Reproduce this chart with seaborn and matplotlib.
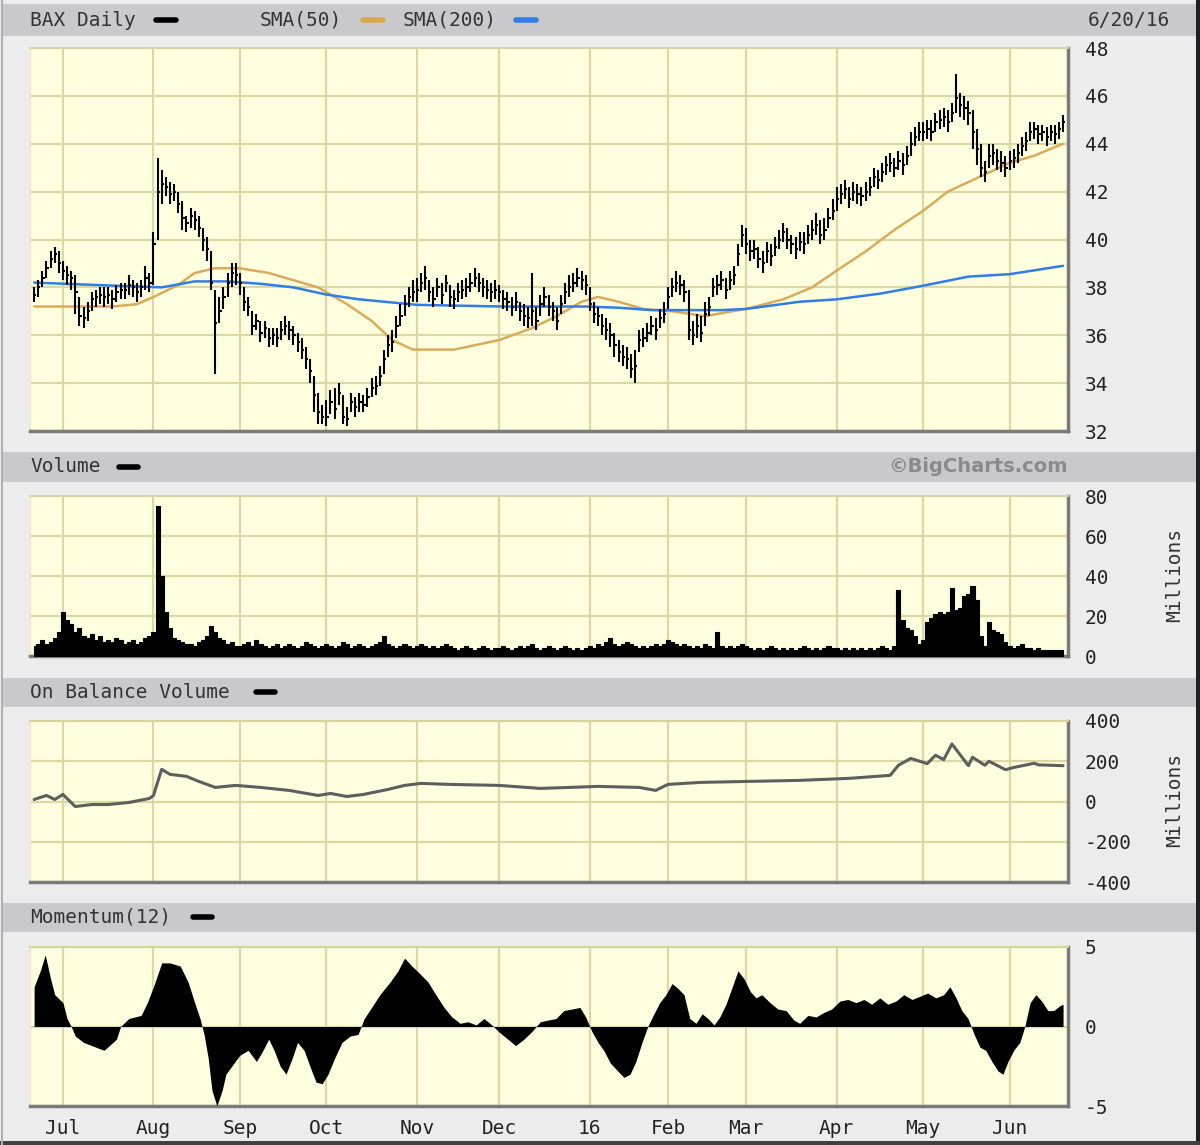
import matplotlib
matplotlib.use("Agg")
import matplotlib.pyplot as plt
from matplotlib.patches import Rectangle
from matplotlib.lines import Line2D
import seaborn as sns

sns.set_style("white")
plt.rcParams["font.family"] = ["DejaVu Sans Mono", "DejaVu Sans"]
plt.rcParams["axes.unicode_minus"] = False

W, H = 1200, 1145

# trading day index of the first session of each month (day 0 = 6/22/15)
month_days = [7, 29, 50, 71, 93, 113, 135, 154, 173, 195, 216, 237]
month_labels = ["Jul", "Aug", "Sep", "Oct", "Nov", "Dec", "16",
                "Feb", "Mar", "Apr", "May", "Jun"]

close = [37.7, 38.0, 38.4, 38.8, 39.2, 39.4, 39.0,
         38.7, 38.5, 38.4, 37.8, 36.8, 36.7, 37.0, 37.5, 37.6, 37.7, 37.6, 37.7, 37.5, 37.8, 37.9,
         37.9, 38.1, 38.0, 37.8, 38.0, 38.4, 38.2,
         39.8, 42.0, 42.3, 42.2, 41.9, 42.0, 41.5, 40.9, 40.7, 41.0, 40.8, 40.5, 40.0, 39.6, 38.2,
         36.5, 37.0, 37.6, 38.2, 38.6, 38.5,
         38.2, 37.4, 37.2, 36.4, 36.6, 36.1, 36.3, 35.9, 36.0, 35.9, 36.2, 36.4, 36.2, 36.0, 35.7,
         35.4, 35.0, 34.5, 33.5, 32.8, 32.6,
         32.6, 33.2, 32.9, 33.6, 32.6, 32.5, 33.2, 33.0, 33.2, 33.1, 33.4, 33.8, 33.9, 34.3, 35.0,
         35.6, 35.7, 36.4, 36.8, 37.3, 37.6, 37.8,
         37.9, 38.2, 38.4, 37.8, 37.5, 38.0, 37.7, 38.2, 37.6, 37.5, 37.8, 37.9, 38.0, 38.2, 38.4,
         38.2, 38.0, 37.9, 37.8, 37.9,
         37.8, 37.5, 37.4, 37.2, 37.4, 37.0, 36.8, 36.7, 37.0, 36.6, 37.3, 37.6, 37.2, 37.0, 36.6,
         37.3, 37.8, 38.0, 38.2, 38.4, 38.3, 38.1,
         37.3, 36.9, 36.8, 36.4, 36.2, 36.0, 35.6, 35.3, 35.1, 35.0, 34.6, 34.7, 35.8, 35.9, 36.1,
         36.4, 36.2, 36.7, 36.9,
         37.6, 38.0, 38.2, 38.1, 37.8, 36.2, 36.0, 36.4, 36.1, 36.9, 37.2, 38.0, 38.1, 38.3, 37.9,
         38.3, 38.5, 39.4, 40.2,
         39.8, 39.5, 39.6, 39.2, 39.0, 39.5, 39.3, 39.7, 40.0, 40.3, 40.0, 39.8, 39.6, 39.9, 39.8,
         40.2, 40.4, 40.6, 40.2, 40.4, 40.9, 41.2,
         41.7, 41.9, 42.1, 41.7, 42.0, 41.9, 41.8, 42.0, 42.2, 42.6, 42.5, 42.8, 43.1, 43.2, 43.0,
         43.3, 43.1, 43.5, 44.0, 44.3, 44.5,
         44.5, 44.6, 44.5, 44.9, 45.0, 45.1, 44.9, 45.3, 45.9, 45.6, 45.5, 45.3, 44.5, 43.8, 43.0,
         42.8, 43.5, 43.6, 43.3, 43.2, 43.0,
         43.3, 43.4, 43.6, 43.9, 44.1, 44.5, 44.6, 44.4, 44.5, 44.3, 44.5, 44.4, 44.6, 44.9]

high = [38.0, 38.3, 38.7, 39.1, 39.5, 39.7, 39.5,
        39.1, 38.9, 38.7, 38.5, 37.6, 37.2, 37.4, 37.8, 37.9, 38.0, 38.0, 38.0, 37.9, 38.1, 38.2,
        38.2, 38.5, 38.3, 38.2, 38.3, 38.9, 38.6,
        40.3, 43.4, 42.9, 42.6, 42.4, 42.3, 42.0, 41.6, 41.0, 41.3, 41.2, 41.0, 40.5, 40.1, 39.5,
        37.9, 37.6, 38.0, 38.6, 39.0, 39.0,
        38.6, 38.0, 37.6, 37.0, 36.9, 36.6, 36.6, 36.3, 36.3, 36.3, 36.6, 36.8, 36.6, 36.4, 36.1,
        35.9, 35.5, 35.0, 34.3, 33.6, 33.1,
        33.3, 33.7, 33.8, 34.0, 33.5, 33.0, 33.6, 33.4, 33.6, 33.5, 33.8, 34.2, 34.3, 34.7, 35.4,
        36.0, 36.2, 36.8, 37.3, 37.7, 38.0, 38.3,
        38.4, 38.6, 38.9, 38.3, 38.0, 38.4, 38.2, 38.5, 38.1, 37.9, 38.2, 38.3, 38.4, 38.6, 38.8,
        38.6, 38.4, 38.3, 38.2, 38.3,
        38.1, 37.9, 37.8, 37.6, 37.8, 37.4, 37.3, 37.2, 38.6, 37.2, 37.7, 38.0, 37.7, 37.4, 37.2,
        37.7, 38.2, 38.5, 38.6, 38.8, 38.7, 38.5,
        38.0, 37.4, 37.2, 36.9, 36.7, 36.5, 36.1, 35.8, 35.6, 35.5, 35.2, 35.4, 36.2, 36.3, 36.5,
        36.8, 36.7, 37.1, 37.4,
        38.0, 38.4, 38.7, 38.5, 38.3, 37.9, 36.6, 36.9, 36.8, 37.4, 37.6, 38.4, 38.5, 38.7, 38.4,
        38.7, 38.9, 39.8, 40.6,
        40.5, 40.0, 40.0, 39.7, 39.5, 39.9, 39.8, 40.1, 40.4, 40.7, 40.5, 40.2, 40.1, 40.3, 40.3,
        40.6, 40.8, 41.1, 40.8, 40.9, 41.3, 41.7,
        42.2, 42.3, 42.5, 42.2, 42.4, 42.3, 42.2, 42.4, 42.6, 43.0, 42.9, 43.2, 43.5, 43.6, 43.4,
        43.7, 43.6, 43.9, 44.5, 44.7, 44.9,
        44.9, 45.0, 45.0, 45.3, 45.4, 45.5, 45.4, 45.7, 46.9, 46.1, 46.0, 45.8, 45.4, 44.6, 44.0,
        43.3, 44.0, 44.0, 43.8, 43.7, 43.5,
        43.7, 43.8, 44.0, 44.3, 44.5, 44.9, 44.9, 44.8, 44.8, 44.7, 44.8, 44.8, 44.9, 45.2]

low = [37.4, 37.6, 38.0, 38.4, 38.8, 39.0, 38.6,
       38.3, 38.1, 37.9, 36.9, 36.4, 36.3, 36.6, 37.0, 37.2, 37.3, 37.2, 37.3, 37.1, 37.4, 37.5,
       37.5, 37.7, 37.6, 37.4, 37.6, 37.9, 37.8,
       38.1, 40.0, 41.5, 41.8, 41.5, 41.6, 41.1, 40.4, 40.3, 40.5, 40.4, 40.1, 39.5, 39.1, 37.9,
       34.4, 36.5, 37.1, 37.6, 38.0, 38.1,
       37.7, 37.0, 36.8, 36.0, 36.2, 35.7, 35.9, 35.5, 35.6, 35.5, 35.8, 36.0, 35.8, 35.6, 35.3,
       35.0, 34.6, 34.0, 32.8, 32.3, 32.3,
       32.2, 32.7, 32.5, 33.1, 32.3, 32.2, 32.8, 32.6, 32.8, 32.8, 33.0, 33.4, 33.5, 33.9, 34.4,
       35.1, 35.3, 35.9, 36.4, 36.8, 37.2, 37.4,
       37.4, 37.8, 37.9, 37.4, 37.2, 37.6, 37.3, 37.8, 37.2, 37.1, 37.4, 37.5, 37.6, 37.8, 38.0,
       37.8, 37.6, 37.5, 37.4, 37.5,
       37.4, 37.1, 37.0, 36.8, 37.0, 36.6, 36.4, 36.3, 36.4, 36.2, 36.8, 37.2, 36.8, 36.6, 36.2,
       36.9, 37.3, 37.6, 37.8, 38.0, 37.9, 37.7,
       37.0, 36.5, 36.4, 36.0, 35.8, 35.5, 35.1, 34.9, 34.7, 34.6, 34.2, 34.0, 35.3, 35.5, 35.7,
       36.0, 35.8, 36.3, 36.5,
       37.1, 37.6, 37.8, 37.7, 37.4, 35.8, 35.6, 35.9, 35.7, 36.4, 36.8, 37.6, 37.7, 37.9, 37.5,
       37.9, 38.1, 38.9, 39.7,
       39.4, 39.1, 39.2, 38.8, 38.6, 39.0, 38.9, 39.3, 39.6, 39.9, 39.6, 39.4, 39.2, 39.5, 39.4,
       39.8, 40.0, 40.2, 39.8, 40.0, 40.5, 40.8,
       41.2, 41.5, 41.7, 41.3, 41.6, 41.5, 41.4, 41.6, 41.8, 42.2, 42.1, 42.4, 42.7, 42.8, 42.6,
       42.9, 42.7, 43.1, 43.5, 43.9, 44.1,
       44.1, 44.2, 44.1, 44.5, 44.6, 44.7, 44.5, 44.9, 45.3, 45.1, 45.0, 44.8, 43.8, 43.1, 42.6,
       42.4, 43.0, 43.1, 42.9, 42.8, 42.6,
       42.9, 43.0, 43.2, 43.5, 43.7, 44.1, 44.2, 44.0, 44.1, 43.9, 44.1, 44.0, 44.2, 44.5]

# volume in millions of shares
volume = [5, 6, 8, 6, 7, 9, 12,
          22, 18, 16, 12, 14, 10, 9, 11, 8, 10, 7, 8, 7, 9, 8, 6, 7, 8, 6, 7, 9, 10,
          12, 75, 40, 22, 14, 9, 8, 7, 6, 6, 5, 7, 8, 10, 15, 12, 9, 8, 6, 7, 5,
          5, 6, 7, 5, 8, 6, 5, 4, 5, 6, 4, 5, 6, 5, 4, 5, 7, 6, 5, 4, 5,
          6, 5, 4, 5, 7, 6, 4, 5, 6, 5, 4, 5, 6, 7, 10, 6, 5, 4, 5, 6, 5, 4,
          5, 6, 5, 4, 5, 4, 5, 6, 5, 4, 3, 4, 5, 4, 3, 4, 5, 4, 3, 4,
          4, 5, 4, 3, 4, 5, 4, 5, 6, 4, 3, 4, 5, 4, 3, 4, 5, 4, 3, 4, 3, 4,
          5, 4, 6, 5, 7, 9, 6, 5, 6, 7, 6, 5, 4, 5, 4, 5, 6, 5, 6,
          8, 7, 6, 5, 6, 5, 4, 5, 4, 6, 5, 4, 12, 5, 4, 5, 4, 5, 6,
          5, 4, 3, 4, 3, 4, 5, 4, 3, 4, 3, 4, 3, 4, 5, 4, 3, 4, 3, 4, 5, 4,
          4, 3, 4, 3, 4, 3, 4, 3, 4, 3, 4, 5, 4, 3, 5, 33, 18, 14, 13, 10, 6,
          8, 17, 19, 21, 22, 21, 22, 34, 23, 24, 30, 31, 35, 28, 10, 5, 17, 13, 12, 11, 7,
          5, 4, 5, 6, 4, 4, 3, 4, 3, 3, 3, 3, 3, 3]

sma50_day = [0, 19, 25, 29, 35, 39, 44, 50, 57, 63, 69, 76, 82, 87, 92, 102, 113, 121, 127,
             133, 137, 142, 148, 155, 163, 173, 182, 189, 195, 202, 209, 216, 222, 227, 232,
             237, 243, 250]
sma50 = [37.2, 37.2, 37.3, 37.6, 38.1, 38.6, 38.8, 38.8, 38.6, 38.3, 38.0, 37.3, 36.6, 35.8,
         35.4, 35.4, 35.8, 36.3, 36.8, 37.4, 37.6, 37.4, 37.1, 37.0, 36.8, 37.1, 37.5, 38.0,
         38.7, 39.5, 40.4, 41.2, 42.0, 42.4, 42.8, 43.2, 43.5, 44.0]

sma200_day = [0, 15, 31, 39, 47, 55, 63, 71, 79, 93, 114, 134, 142, 150, 167, 173, 186, 195,
              206, 216, 227, 237, 250]
sma200 = [38.2, 38.1, 38.0, 38.25, 38.25, 38.15, 38.0, 37.7, 37.5, 37.27, 37.2, 37.2, 37.15,
          37.05, 37.05, 37.1, 37.4, 37.5, 37.75, 38.07, 38.45, 38.55, 38.9]

obv_day = [0, 3, 5, 7, 10, 14, 18, 23, 28, 29, 31, 33, 37, 40, 44, 49, 55, 62, 69, 72, 76,
           80, 86, 90, 94, 101, 113, 123, 137, 147, 151, 154, 162, 174, 186, 198, 208, 210,
           213, 217, 219, 221, 223, 227, 228, 231, 232, 236, 238, 243, 244, 250]
obv = [10, 30, 10, 35, -25, -15, -15, -5, 15, 30, 160, 135, 125, 100, 70, 80, 70, 55, 30, 40,
       25, 35, 60, 80, 90, 85, 80, 65, 75, 70, 55, 85, 95, 100, 105, 115, 130, 180, 214, 188,
       230, 208, 286, 178, 220, 180, 200, 158, 169, 190, 182, 178]

mom_day = [0, 1.5, 2.7, 4, 5, 7, 8, 9, 10, 12, 15, 17, 20, 21, 23, 26, 27.5, 29, 31, 33,
           35.5, 37.4, 39, 40.3, 41.3, 42.3, 43.2, 44.4, 45.7, 46.6, 48, 50, 52, 54, 55.4, 57,
           58.3, 59.8, 61.2, 62.7, 64, 65.6, 67, 68.5, 70, 71.4, 73, 74.8, 76.8, 78.7, 80.2,
           82, 84, 86.5, 88.4, 90, 91.8, 93.8, 95.7, 97.6, 99.6, 101.5, 103.5, 105.4, 107.4,
           109.3, 111.2, 113.2, 115.1, 117, 119, 121, 123, 124.8, 126.8, 128.7, 130.7, 132.6,
           134, 135.5, 137, 138.4, 140, 141.8, 143.3, 144.8, 146.2, 147.7, 149.1, 150.6, 152,
           153.5, 155, 156.4, 157.9, 159.3, 160.8, 162.3, 163.7, 165.2, 166.6, 168.1, 169.5,
           171, 172.5, 174, 175.4, 176.8, 178.8, 180.7, 182.7, 184.6, 186, 188, 190, 192,
           193.8, 195.8, 197.7, 199.7, 201.6, 203.5, 205.5, 207.4, 209.4, 211.3, 213.3, 215.2,
           217.1, 219.1, 221, 222.5, 224, 225.4, 226.9, 228.4, 229.8, 231.2, 232.7, 234.2,
           235.4, 236.6, 238, 239.5, 240.7, 242, 243.4, 244.8, 246.3, 247.7, 249.2, 250]
mom = [2.5, 3.5, 4.5, 3, 2, 1.5, 0.5, 0, -0.6, -1, -1.3, -1.5, -0.8, 0, 0.5, 0.7, 1.5, 2.5,
       4.0, 4.0, 3.8, 2.8, 1.5, 0.5, -0.5, -2, -4, -5, -4, -3, -2.5, -1.8, -1.5, -2.2, -1.6,
       -0.8, -1.5, -2.5, -3, -2, -1, -1.5, -2.5, -3.5, -3.6, -3, -2, -1, -0.6, -0.5, 0.5,
       1.2, 2, 2.8, 3.5, 4.3, 3.8, 3.3, 2.8, 2, 1.2, 0.6, 0.2, 0.3, 0.1, 0.5, 0.1, -0.4,
       -0.8, -1.2, -0.8, -0.3, 0.3, 0.4, 0.5, 1.0, 1.1, 1.2, 0.6, -0.3, -1, -1.5, -2.3, -2.8,
       -3.2, -3.0, -2.2, -1, 0, 0.8, 1.5, 2, 2.7, 2.4, 2, 0.5, 0.2, 0.8, 0.5, 0.1, 0.6, 1.4,
       2.4, 3.5, 3.0, 2.2, 1.8, 2.0, 1.5, 1.1, 1.0, 0.4, 0.2, 0.7, 0.6, 0.9, 1.1, 1.6, 1.7,
       1.5, 1.7, 1.4, 1.8, 1.4, 1.6, 2.0, 1.7, 1.9, 2.1, 1.8, 2.0, 2.5, 1.8, 1.0, 0.5, -0.5,
       -1.3, -1.5, -2.2, -2.8, -3.0, -2.2, -1.5, -1.0, 0, 1.5, 2.0, 1.6, 1.0, 1.0, 1.3, 1.4]

days = list(range(len(close)))

BG = "#ececec"
BAND = "#c9c9cc"
FACE = "#ffffe0"
GRID = "#dcd8a4"
TXT = "#333333"
FS = 14


def fx(x):
    return x / W


def fy(y):
    return 1 - y / H


fig = plt.figure(figsize=(12, 11.45), dpi=100)
fig.patch.set_facecolor(BG)


def band(top, bottom):
    fig.add_artist(Rectangle((fx(3), fy(bottom)), fx(1193), (bottom - top) / H,
                             transform=fig.transFigure, facecolor=BAND,
                             edgecolor="none", zorder=-5))


def swatch(x0, x1, y, color):
    fig.add_artist(Line2D([fx(x0), fx(x1)], [fy(y), fy(y)], transform=fig.transFigure,
                          color=color, lw=4, solid_capstyle="round"))


def label(x, y, s, **kw):
    fig.text(fx(x), fy(y), s, va="center", fontsize=FS, color=TXT, **kw)


def panel(top, bottom, yticks, ylabels, ylim):
    ax = fig.add_axes([fx(30), fy(bottom), fx(1038), (bottom - top) / H])
    ax.set_facecolor(FACE)
    ax.set_xlim(-1, 251.2)
    ax.set_ylim(*ylim)
    ax.set_xticks(month_days)
    ax.set_xticklabels([])
    ax.set_yticks(yticks)
    ax.set_yticklabels(ylabels)
    ax.yaxis.tick_right()
    ax.tick_params(length=0, pad=12, labelsize=FS, labelcolor="#222222")
    ax.grid(True, color=GRID, lw=1.6)
    ax.set_axisbelow(True)
    for side in ["bottom", "right"]:
        ax.spines[side].set_color("#7a7a7a")
        ax.spines[side].set_linewidth(2.5)
    ax.spines["top"].set_color("#d8d4a0")
    ax.spines["top"].set_linewidth(1.5)
    ax.spines["left"].set_color("#ebe8c4")
    ax.spines["left"].set_linewidth(1)
    return ax


# header bands
band(4, 36)
band(452, 482)
band(678, 707)
band(903, 932)

# frame strips at the edges
fig.add_artist(Rectangle((fx(1196), 0), fx(4), 1, transform=fig.transFigure,
                         facecolor="#202020", edgecolor="none", zorder=-4))
fig.add_artist(Rectangle((0, 0), 1, 4 / H, transform=fig.transFigure,
                         facecolor="#404040", edgecolor="none", zorder=-4))
fig.add_artist(Rectangle((fx(1), 0), fx(2), 1, transform=fig.transFigure,
                         facecolor="#b0b0b0", edgecolor="none", zorder=-4))

label(30, 20, "BAX Daily")
swatch(156, 176, 20, "black")
label(260, 20, "SMA(50)")
swatch(363, 383, 20, "#d9a84e")
label(403, 20, "SMA(200)")
swatch(516, 536, 20, "#2f7de6")
label(1170, 20, "6/20/16", ha="right")

label(30, 467, "Volume")
swatch(119, 138, 467, "black")
fig.text(fx(1068), fy(466), "\u00a9BigCharts.com", ha="right", va="center",
         fontsize=14, fontweight="bold", color="#8a8a8a", family="DejaVu Sans")

label(30, 692, "On Balance Volume")
swatch(256, 275, 692, "black")

label(30, 917, "Momentum(12)")
swatch(193, 212, 917, "black")

label(1175, 575, "Millions", ha="center", rotation=90)
label(1175, 800, "Millions", ha="center", rotation=90)

# price panel
ax1 = panel(48, 431, list(range(32, 49, 2)), [str(v) for v in range(32, 49, 2)], (32, 48))
ax1.vlines(days, low, high, color="black", lw=1.5, zorder=3)
ax1.hlines(close, days, [d + 0.55 for d in days], color="black", lw=1.5, zorder=3)
sns.lineplot(x=sma50_day, y=sma50, ax=ax1, color="#d9ab5a", lw=1.8, zorder=2)
sns.lineplot(x=sma200_day, y=sma200, ax=ax1, color="#2f7de6", lw=1.8, zorder=2)
ax1.set_xlabel("")
ax1.set_ylabel("")

# volume panel
ax2 = panel(496, 656, [0, 20, 40, 60, 80], ["0", "20", "40", "60", "80"], (0, 80))
ax2.fill_between(days, volume, 0, step="mid", color="black", lw=0.8, zorder=3)

# on balance volume panel
ax3 = panel(721, 882, [-400, -200, 0, 200, 400], ["-400", "-200", "0", "200", "400"],
            (-400, 400))
sns.lineplot(x=obv_day, y=obv, ax=ax3, color="#5e5e5e", lw=2.2, zorder=3)
ax3.set_xlabel("")
ax3.set_ylabel("")

# momentum panel
ax4 = panel(947, 1106, [-5, 0, 5], ["-5", "0", "5"], (-5, 5))
ax4.fill_between(mom_day, mom, 0, color="black", lw=0, zorder=3)
ax4.set_xticklabels(month_labels)
ax4.tick_params(axis="x", pad=9, labelsize=FS, labelcolor="#222222")

fig.savefig("out.png", dpi=100, facecolor=BG)
